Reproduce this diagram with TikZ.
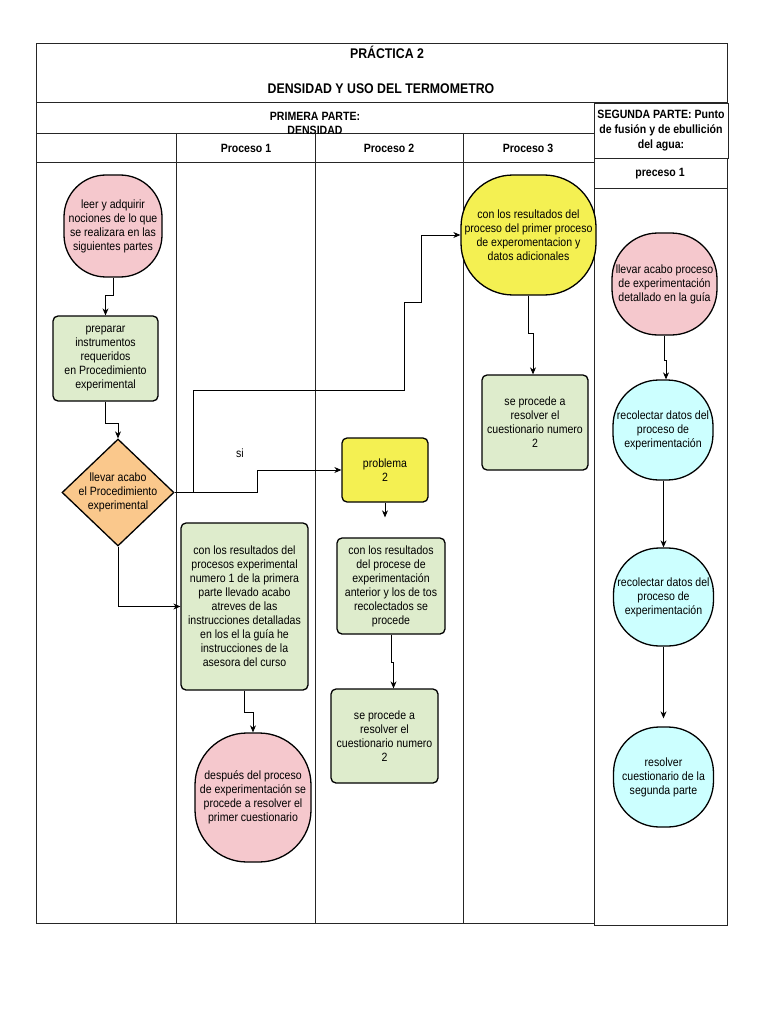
\documentclass[tikz,border=0pt]{standalone}
\usepackage{fontspec}
\setmainfont{Liberation Sans}[FakeStretch=0.88]
\usetikzlibrary{arrows.meta,shapes.geometric}
\definecolor{cpink}{RGB}{245,200,205}
\definecolor{cgreen}{RGB}{222,236,204}
\definecolor{cyel}{RGB}{244,240,82}
\definecolor{corange}{RGB}{250,200,140}
\definecolor{ccyan}{RGB}{204,255,255}
\begin{document}
\begin{tikzpicture}[x=1pt,y=-1pt,
  every node/.style={font=\fontsize{12}{14}\selectfont, align=center, inner sep=0pt},
  head/.style={font=\fontsize{12}{15}\selectfont\bfseries},
  title/.style={font=\fontsize{14}{16}\selectfont\bfseries},
  lane/.style={draw=black!85, line width=0.9pt},
  shp/.style={draw=black, line width=1.3pt},
  terminal/.style={shp, rounded corners=#1},
  proc/.style={shp, rounded corners=5pt, fill=cgreen},
  link/.style={draw=black, line width=0.8pt},
  arr/.style={link, -{Stealth[length=7pt,width=6pt]}}]
\useasboundingbox (0,0) rectangle (768,1024);
\fill[white] (0,0) rectangle (768,1024);

% ---- frame and lanes
\draw[lane] (36,43) rectangle (727,102);
\draw[lane] (36,102) rectangle (594,133);
\draw[lane] (36,133) rectangle (594,162);
\draw[lane] (36,162) rectangle (594,923);
\draw[lane] (176,133) -- (176,923);
\draw[lane] (315,133) -- (315,923);
\draw[lane] (463,133) -- (463,923);
\draw[lane] (594,103) rectangle (728,158);
\draw[lane] (594,158) rectangle (727,188);
\draw[lane] (594,188) rectangle (727,925);

% ---- header texts
\node[title] (t1) at (387,52) {PRÁCTICA 2};
\node[title] (t2) at (381,89) {DENSIDAD Y USO DEL TERMOMETRO};
\node[head] (t3) at (315,116) {PRIMERA PARTE:};
\node[head] (t4) at (315,130) {DENSIDAD};
\node[head] (h1) at (246,148) {Proceso 1};
\node[head] (h2) at (389,148) {Proceso 2};
\node[head] (h3) at (528,148) {Proceso 3};
\node[head] (sp) at (661,131) {SEGUNDA PARTE: Punto\\de fusión y de ebullición\\del agua:};
\node[head] (pr1) at (660,174) {preceso 1};

% ---- nodes, first part
\node[terminal=42pt, fill=cpink, minimum width=98pt, minimum height=102pt] (n1) at (113,226)
  {leer y adquirir\\nociones de lo que\\se realizara en las\\siguientes partes};
\node[proc, minimum width=105pt, minimum height=85pt] (n2) at (105.5,358.5)
  {preparar\\instrumentos\\requeridos\\en Procedimiento\\experimental};
\node[diamond, shp, fill=corange, minimum width=112pt, minimum height=107pt] (d) at (118,492.5) {};
\node (dt) at (d.center) {llevar acabo\\el Procedimiento\\experimental};
\node[proc, minimum width=127pt, minimum height=167pt] (n4) at (244.5,606.5)
  {con los resultados del\\procesos experimental\\numero 1 de la primera\\parte llevado acabo\\atreves de las\\instrucciones detalladas\\en los el la guía  he\\instrucciones de la\\asesora del curso};
\node[terminal=52pt, fill=cpink, minimum width=116pt, minimum height=129pt] (n10) at (253,797.5)
  {después del proceso\\de experimentación se\\procede a resolver el\\primer cuestionario};
\node[proc, fill=cyel, minimum width=86pt, minimum height=64pt] (prob) at (385,470) {problema\\2};
\node[proc, minimum width=108pt, minimum height=96pt] (n6) at (391,586)
  {con los resultados\\del procese de\\experimentación\\anterior y los de tos\\recolectados se\\procede};
\node[proc, minimum width=107pt, minimum height=94pt] (n7) at (384.5,736)
  {se procede a\\resolver el\\cuestionario numero\\2};
\node[terminal=52pt, fill=cyel, minimum width=135pt, minimum height=120pt] (circ) at (528.5,235)
  {con los resultados del\\proceso del primer proceso\\de experomentacion y\\datos adicionales};
\node[proc, minimum width=106pt, minimum height=95pt] (n9) at (535,422.5)
  {se procede a\\resolver el\\cuestionario numero\\2};
\node (si) at (240,453) {si};

% ---- nodes, second part
\node[terminal=46pt, fill=cpink, minimum width=105pt, minimum height=102pt] (n11) at (664.5,284)
  {llevar acabo proceso\\de experimentación\\detallado en la guía};
\node[terminal=46pt, fill=ccyan, minimum width=100pt, minimum height=100pt] (n12) at (663,430)
  {recolectar datos del\\proceso de\\experimentación};
\node[terminal=46pt, fill=ccyan, minimum width=100pt, minimum height=98pt] (n13) at (663.5,597)
  {recolectar datos del\\proceso de\\experimentación};
\node[terminal=46pt, fill=ccyan, minimum width=100pt, minimum height=100pt] (n14) at (663.5,777)
  {resolver\\cuestionario de la\\segunda parte};

% ---- connectors
\draw[arr] (n1.south) -- ++(0,18) -| (n2.north);
\draw[arr] (n2.south) -- ++(0,22) -| (d.north);
\draw[arr] (d.south) |- (n4.west);
\draw[arr] (d.east) -- ++(83,0) |- (prob.west);
\draw[arr] (d.east) -- ++(19,0) -- ++(0,-102) -- ++(211,0) -- ++(0,-88) -- ++(17,0) |- (circ.west);
\draw[arr, shorten >=20pt] (prob.south) -- (prob.south |- n6.north);
\draw[arr] (n6.south) -- ++(0,28) -| ([xshift=9pt]n7.north);
\draw[arr] (circ.south) -- ++(0,38) -| ([xshift=-2pt]n9.north);
\draw[arr] (n4.south) -- ++(0,22) -| (n10.north);
\draw[arr] (n11.south) -- ++(0,25) -| ([xshift=3pt]n12.north);
\draw[arr] (n12.south) -- ++(0,32) -| (n13.north);
\draw[arr, shorten >=8pt] (n13.south) -- (n14.north);
\end{tikzpicture}
\end{document}
